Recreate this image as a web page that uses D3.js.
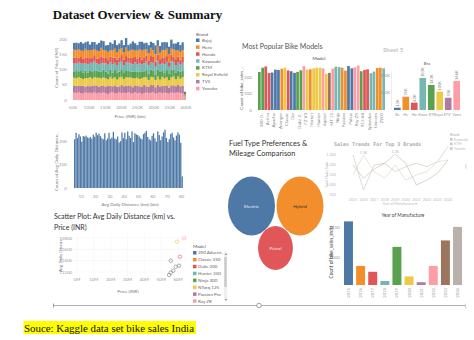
<!DOCTYPE html>
<html>
<head>
<meta charset="utf-8">
<script src="https://cdn.jsdelivr.net/npm/d3@7"></script>
<style>
  body { margin: 0; background: #fff; }
  svg { display: block; }
  text { font-family: Lato, "Open Sans", sans-serif; }
</style>
</head>
<body>
<svg width="474" height="340"></svg>
<script>
// ---- data ----
var brands = ["Bajaj", "Hero", "Honda", "Kawasaki", "KTM", "Royal Enfield", "TVS", "Yamaha"];
var brandColors = ["#4e79a7", "#f28e2b", "#e15759", "#76b7b2", "#59a14f", "#edc948", "#b07aa1", "#ff9da7"];

// price histogram, 7K bins from 50K to 400K, counts per brand
var bajajPrice = [22,25,19,28,24,21,30,18,26,23,20,27,24,29,17,22,25,21,28,24,19,26,23,31,20,22,27,24,18,25,29,21,23,26,20,24,28,19,22,25,27,21,24,30,18,23,26,22,25,8];
var heroPrice = [26,23,28,21,25,29,22,27,24,20,26,23,28,25,22,27,21,24,29,23,26,20,25,28,22,24,27,21,26,23,29,25,20,24,27,22,25,28,21,26,23,24,27,20,25,28,22,26,23,3];
var hondaPrice = [18,21,16,20,17,19,23,15,18,21,16,19,22,17,20,15,18,21,17,19,16,22,18,20,15,19,21,17,18,22,16,20,18,15,21,19,17,20,16,18,22,19,15,21,17,20,18,16,19,2];
var kawasakiPrice = [27,24,29,26,30,23,27,25,28,31,24,26,29,23,27,30,25,28,24,26,31,27,23,29,26,28,24,30,25,27,23,26,29,28,24,27,25,30,26,23,28,27,24,29,26,25,28,23,27,3];
var ktmPrice = [21,24,19,23,20,25,18,22,24,20,23,19,21,25,22,18,24,20,23,21,19,25,22,20,24,18,21,23,20,25,22,19,24,21,23,20,18,22,25,21,19,23,20,24,22,21,19,23,20,2];
var royalPrice = [27,24,29,25,22,28,26,30,23,27,25,29,24,26,28,22,30,25,27,23,29,26,24,28,25,27,30,23,26,24,28,25,29,22,27,26,24,28,23,30,25,27,24,26,29,23,27,25,28,3];
var tvsPrice = [22,25,20,24,26,19,23,21,25,22,27,20,24,23,21,26,22,19,25,23,20,28,21,24,22,26,19,23,25,21,24,27,20,22,25,23,21,26,19,24,22,25,20,23,26,21,24,22,25,2];
var yamahaPrice = [24,22,26,23,21,25,23,24,22,26,21,24,23,25,22,20,24,26,23,21,25,22,24,23,26,21,23,25,22,24,20,23,25,22,24,26,21,23,25,22,24,23,21,25,22,24,26,23,22,4];
var priceBinStart = 50000, priceBinWidth = 7000;
var priceTicks = [50000,100000,150000,200000,250000,300000,350000,400000];

// avg daily distance histogram, 1 km bins from 5 km
var distanceCounts = [210,238,215,232,222,200,224,221,226,218,
  215,220,212,230,221,238,228,234,224,214,
  210,236,206,214,238,211,218,242,213,210,
  222,196,202,240,215,238,210,244,225,216,
  244,198,236,231,228,222,214,210,232,238,
  246,220,210,205,225,236,214,200,244,228,
  206,222,240,251,216,198,210,233,238,218,
  205,226,240,230,195,50];
var distanceStart = 5;

// scatter: model, price (INR), avg daily distance
var scatterModels = ["390 Advent..", "Classic 350", "Duke 200", "Hunter 350", "Ninja 300", "NTorq 125", "Passion Pro", "Ray ZR"];
var scatterPrice = [55.7e6, 58.6e6, 60.6e6, 57.2e6, 55.7e6, 54.7e6, 61.2e6, 59.4e6, 63.6e6];
var scatterDistance = [11399, 11293, 11311, 11223, 11188, 11147, 11470, 11735, 11795];
var scatterModelOf = [0, 3, 4, 6, 1, 3, 2, 5, 7];

// most popular models
var models = ["390 D..","Activa","Apache","Avenger","Classic","Dio","Duke 2..","FZ V3","Hornet","Hunter","Jupiter","MT 15","Ninja","Passion","Pulsar","Ray ZR","R15 V4","Splendor","Unicorn","Z900"];
var modelCountA = [235,270,232,248,262,240,236,272,252,262,258,230,268,262,272,264,240,252,238,262];
var modelCountB = [262,230,250,255,245,230,246,250,258,262,224,256,266,244,258,275,248,228,260,258];
var modelColorA = ["#59a14f","#e15759","#4e79a7","#4e79a7","#edc948","#4e79a7","#59a14f","#ff9da7","#f28e2b","#edc948","#ff9da7","#9c755f","#76b7b2","#f28e2b","#4e79a7","#ff9da7","#59a14f","#e15759","#76b7b2","#f28e2b"];
var modelColorB = ["#59a14f","#e15759","#4e79a7","#f28e2b","#e15759","#4e79a7","#59a14f","#edc948","#edc948","#edc948","#edc948","#ff9da7","#76b7b2","#f28e2b","#4e79a7","#ff9da7","#e15759","#76b7b2","#f28e2b","#76b7b2"];

// brand totals
var brandShort = ["Ba","He","Ho","Kawa","KT","Royal E","TV","Yama"];
var brandTotals = [13000, 76000, 42000, 183000, 143000, 105000, 70000, 166000];

// sales trend for top 3 brands
var years = [2015,2016,2017,2018,2019,2020,2021,2022,2023,2024];
var trendBrands = ["Kawasaki", "KTM", "Yamaha"];
var trendKawasaki = [1300, 950, 1200, 1217, 1133, 1183, 1217, 1183, 1233, 1383];
var trendKtm = [1100, 1300, 1133, 1067, 1200, 1050, 1100, 1133, 1233, 1250];
var trendYamaha = [1200, 1067, 1160, 1217, 1310, 1217, 1000, 1050, 1117, 1250];

// bikes by year of manufacture
var yearCounts = [1119, 974, 955, 925, 1036, 940, 921, 974, 1057, 1101];
var yearColors = ["#4e79a7","#f28e2b","#e15759","#76b7b2","#59a14f","#edc948","#b07aa1","#ff9da7","#9c755f","#bab0ac"];

// fuel types
var fuelTypes = ["Electric", "Hybrid", "Petrol"];
var fuelShare = [1, 1, 0.55];
var fuelColors = ["#4e79a7", "#f28e2b", "#e15759"];

// ---- drawing ----
var svg = d3.select("svg");
var tick = "#9a9a9a", axisText = "#777";

function label(x, y, txt, size, fill, anchor, rot) {
  var t = svg.append("text").attr("x", x).attr("y", y).text(txt)
    .attr("font-size", size).attr("fill", fill || axisText)
    .attr("text-anchor", anchor || "start");
  if (rot) t.attr("transform", "rotate(" + rot + "," + x + "," + y + ")");
  return t;
}

// title
svg.append("text").attr("x", 137.5).attr("y", 18.5)
  .attr("text-anchor", "middle")
  .style("font-family", "'Liberation Serif', 'Times New Roman', serif")
  .attr("font-weight", "bold").attr("font-size", 12.9).attr("fill", "#111")
  .text("Dataset Overview & Summary");

// 1. stacked price histogram
var px = d3.scaleLinear().domain([50000, 400000]).range([73, 186]);
var py = d3.scaleLinear().domain([0, 200]).range([100, 39]);
var priceCols = [bajajPrice, heroPrice, hondaPrice, kawasakiPrice, ktmPrice, royalPrice, tvsPrice, yamahaPrice];
var priceRows = bajajPrice.map(function(_, i) {
  var r = { bin: priceBinStart + i * priceBinWidth };
  brands.forEach(function(b, j) { r[b] = priceCols[j][i]; });
  return r;
});
var color = d3.scaleOrdinal().domain(brands).range(brandColors);
var stack = d3.stack().keys(brands.slice().reverse())(priceRows);
svg.append("g").selectAll("g").data(stack).enter().append("g")
  .attr("fill", function(d) { return color(d.key); })
  .selectAll("rect").data(function(d) { return d; }).enter().append("rect")
  .attr("x", function(d) { return px(d.data.bin); })
  .attr("width", function(d) { return px(d.data.bin + priceBinWidth) - px(d.data.bin) + 0.05; })
  .attr("y", function(d) { return py(d[1]); })
  .attr("height", function(d) { return py(d[0]) - py(d[1]); });
[0, 50, 100, 150, 200].forEach(function(v) { label(67, py(v) + 1.5, v, 4.6, tick, "end"); });
priceTicks.forEach(function(v) { label(px(v), 109, (v / 1000) + "K", 4.6, tick, "middle"); });
label(130, 118, "Price (INR) (bin)", 4.6, axisText, "middle");
label(58, 68, "Count of Price (INR)", 4.6, axisText, "middle", -90);
label(196, 36, "Brand", 4.6, "#555");
brands.forEach(function(b, i) {
  svg.append("rect").attr("x", 196).attr("y", 38.5 + i * 6.9).attr("width", 3.5).attr("height", 3.5).attr("fill", brandColors[i]);
  label(202, 41.8 + i * 6.9, b, 4.5, "#666");
});

// 2. avg daily distance histogram
var dx = d3.scaleLinear().domain([5, 81]).range([74, 183]);
var dy = d3.scaleLinear().domain([0, 200]).range([188, 141.6]);
svg.append("g").selectAll("rect").data(distanceCounts).enter().append("rect")
  .attr("fill", "#4e79a7")
  .attr("x", function(d, i) { return dx(distanceStart + i); })
  .attr("width", function(d, i) { return dx(distanceStart + i + 1) - dx(distanceStart + i) - 0.15; })
  .attr("y", function(d) { return dy(d); })
  .attr("height", function(d) { return dy(0) - dy(d); });
[0, 100, 200].forEach(function(v) { label(67, dy(v) + 1.5, v, 4.6, tick, "end"); });
d3.range(10, 81, 10).forEach(function(v) { label(dx(v), 197.5, v, 4.6, tick, "middle"); });
label(130, 206, "Avg Daily Distance (km) (bin)", 4.6, axisText, "middle");
label(58, 162, "Count of Avg Daily Distance..", 4.6, axisText, "middle", -90);

// 3. scatter
label(54, 219, "Scatter Plot: Avg Daily Distance (km) vs.", 7, "#333");
label(54, 229.5, "Price (INR)", 7, "#333");
var sx = d3.scaleLinear().domain([0, 60e6]).range([77, 178]);
var sy = d3.scaleLinear().domain([11200, 11800]).range([272, 238]);
[11200, 11400, 11600, 11800].forEach(function(v) {
  svg.append("line").attr("x1", 74).attr("x2", 188).attr("y1", sy(v)).attr("y2", sy(v)).attr("stroke", "#f0f0f0").attr("stroke-width", 0.5);
  label(72, sy(v) + 1.5, v, 4.4, tick, "end");
});
d3.range(0, 61e6, 10e6).forEach(function(v) {
  svg.append("line").attr("x1", sx(v)).attr("x2", sx(v)).attr("y1", 234).attr("y2", 276).attr("stroke", "#f2f2f2").attr("stroke-width", 0.5);
  label(sx(v), 281, (v / 1e6) + "M", 4.4, tick, "middle");
});
label(128, 293, "Price (INR)", 4.6, axisText, "middle");
label(62, 255, "Avg Daily Distan..", 4.4, axisText, "middle", -90);
var scatterColor = d3.scaleOrdinal().domain(scatterModels).range(brandColors);
svg.append("g").selectAll("circle").data(scatterPrice).enter().append("circle")
  .attr("cx", function(d) { return sx(d); })
  .attr("cy", function(d, i) { return sy(scatterDistance[i]); })
  .attr("r", 1.7).attr("fill", "none").attr("stroke-width", 0.6)
  .attr("stroke", function(d, i) { var m = scatterModelOf[i]; return (m === 2 || m === 5 || m === 7) ? scatterColor(scatterModels[m]) : "#777"; });
label(193, 248, "Model", 4.6, "#555");
scatterModels.forEach(function(m, i) {
  svg.append("rect").attr("x", 193).attr("y", 251 + i * 6.9).attr("width", 3.5).attr("height", 3.5).attr("fill", brandColors[i]);
  label(198, 254.3 + i * 6.9, m, 4.5, "#666");
});
svg.append("rect").attr("x", 224).attr("y", 252).attr("width", 3).attr("height", 48).attr("fill", "#eee");
svg.append("rect").attr("x", 224.3).attr("y", 257).attr("width", 2.4).attr("height", 30).attr("fill", "#c9c9c9");
label(225.5, 255, "\u25B4", 4, "#888", "middle");
label(225.5, 300.5, "\u25BE", 4, "#888", "middle");

// 4. most popular bike models
label(242, 48.5, "Most Popular Bike Models", 7, "#555");
label(319, 60, "Model", 4.6, "#444", "middle");
var mx = d3.scaleBand().domain(models).range([258, 385]).paddingInner(0.05);
var my = d3.scaleLinear().domain([0, 200]).range([110, 77.7]);
var mb = d3.scaleBand().domain(["a", "b"]).range([0, mx.bandwidth()]).paddingInner(0.18);
[0, 100, 200].forEach(function(v) { label(252, my(v) + 1.5, v, 4.6, tick, "end"); });
svg.append("g").selectAll("rect").data(models).enter().append("rect")
  .attr("x", function(d) { return mx(d) + mb("a"); }).attr("width", mb.bandwidth())
  .attr("y", function(d, i) { return my(modelCountA[i]); })
  .attr("height", function(d, i) { return my(0) - my(modelCountA[i]); })
  .attr("fill", function(d, i) { return modelColorA[i]; });
svg.append("g").selectAll("rect").data(models).enter().append("rect")
  .attr("x", function(d) { return mx(d) + mb("b"); }).attr("width", mb.bandwidth())
  .attr("y", function(d, i) { return my(modelCountB[i]); })
  .attr("height", function(d, i) { return my(0) - my(modelCountB[i]); })
  .attr("fill", function(d, i) { return modelColorB[i]; });
models.forEach(function(m) {
  label(mx(m) + mx.bandwidth() / 2 + 1.5, 113, m, 4.4, "#888", "end", -90);
});
label(243, 88, "Count of bike_sales_..", 4.6, "#555", "middle", -90);

// 5. brand totals
label(383, 52, "Sheet 5", 6, "#c4c4c4").attr("font-weight", "bold");
label(427, 65, "Bra", 4.4, "#555", "middle");
var bx = d3.scaleBand().domain(brands).range([394, 460]).paddingInner(0.22);
var by = d3.scaleLinear().domain([0, 200000]).range([110, 75]);
[100000, 200000].forEach(function(v) {
  label(390, by(v) + 1.5, (v / 1000) + "K", 4.4, tick, "end");
});
svg.append("line").attr("x1", 391.5).attr("x2", 391.5).attr("y1", 72).attr("y2", 110).attr("stroke", "#ddd").attr("stroke-width", 0.5);
svg.append("g").selectAll("rect").data(brandTotals).enter().append("rect")
  .attr("x", function(d, i) { return bx(brands[i]); }).attr("width", bx.bandwidth())
  .attr("y", function(d) { return by(d); }).attr("height", function(d) { return by(0) - by(d); })
  .attr("fill", function(d, i) { return brandColors[i]; });
brandTotals.forEach(function(v, i) {
  label(bx(brands[i]) + bx.bandwidth() / 2 + 1.3, by(v) - 1, d3.format(".0f")(v / 1000) + "K", 4, "#888", "start", -90);
  label(bx(brands[i]) + bx.bandwidth() / 2, 116, brandShort[i], 3.8, "#999", "middle");
});

// 6. fuel type bubbles
label(229, 146, "Fuel Type Preferences &", 7.4, "#333");
label(229, 156, "Mileage Comparison", 7.4, "#333");
var rx = d3.scaleSqrt().domain([0, 1]).range([0, 23.5]);
var ry = d3.scaleSqrt().domain([0, 1]).range([0, 29.5]);
var fuelCx = [251.5, 300, 275.5], fuelCy = [206, 206, 248];
fuelTypes.forEach(function(f, i) {
  svg.append("ellipse").attr("cx", fuelCx[i]).attr("cy", fuelCy[i])
    .attr("rx", rx(fuelShare[i])).attr("ry", ry(fuelShare[i])).attr("fill", fuelColors[i]);
  label(fuelCx[i], fuelCy[i] + 1.5, f, 4.6, f === "Hybrid" ? "#333" : "#eee", "middle");
});

// 7. sales trend lines
label(334, 146, "Sales Trends For Top 3 Brands", 5, "#aaa").style("font-family", "'DejaVu Sans Mono', monospace").attr("font-weight", "bold");
var tx = d3.scalePoint().domain(years).range([353, 448]);
var ty = d3.scaleLinear().domain([900, 1300]).range([195, 155]);
[900, 1000, 1100, 1200, 1300].forEach(function(v) {
  label(336, ty(v) + 1.3, d3.format(",")(v), 3.8, "#bbb", "end");
});
years.forEach(function(y) { label(tx(y), 201, y, 3.6, "#bbb", "middle"); });
label(400, 204.5, "Year of Manufacture \u25BE", 3.6, "#bbb", "middle");
label(328, 175, "Total Units Sold", 3.8, "#bbb", "middle", -90);
var trendLine = d3.line().x(function(d, i) { return tx(years[i]); }).y(function(d) { return ty(d); });
var trendColors = ["#d6d2c8", "#e2ddd2", "#cfcac0"];
[trendKawasaki, trendKtm, trendYamaha].forEach(function(s, i) {
  svg.append("path").datum(s).attr("d", trendLine).attr("fill", "none")
    .attr("stroke", trendColors[i]).attr("stroke-width", 0.8);
});
label(tx(2016), ty(trendKtm[1]) - 1.5, "1.3K", 3.6, "#bbb", "middle");
label(tx(2019), ty(trendYamaha[4]) - 1.5, "1.3K", 3.6, "#bbb", "middle");
label(450, 136, "Brand", 3.6, "#aaa");
trendBrands.forEach(function(b, i) {
  svg.append("rect").attr("x", 450).attr("y", 138 + i * 4.6).attr("width", 2.6).attr("height", 2.6).attr("fill", "#c8c8c8");
  label(454, 140.6 + i * 4.6, b, 3.4, "#bbb");
});
label(466, 168, "(", 5, "#999", "middle");

// 8. year of manufacture bars
label(403, 217, "Year of Manufacture", 4.8, "#444", "middle");
var yx = d3.scaleBand().domain(years).range([344, 462]).paddingInner(0.26);
var yy = d3.scaleLinear().domain([912, 1130]).range([285, 218]);
[1000, 1100].forEach(function(v) { label(340, yy(v) + 1.5, v, 4.6, tick, "end"); });
svg.append("g").selectAll("rect").data(yearCounts).enter().append("rect")
  .attr("x", function(d, i) { return yx(years[i]); }).attr("width", yx.bandwidth())
  .attr("y", function(d) { return yy(d); }).attr("height", function(d) { return yy.range()[0] - yy(d); })
  .attr("fill", function(d, i) { return yearColors[i]; });
years.forEach(function(y) { label(yx(y) + yx.bandwidth() / 2 + 1.5, 288, y, 4.2, "#999", "end", -90); });
label(333, 252, "Count of bike_sales_india", 4.8, "#333", "middle", -90);

// slider under the dashboard
svg.append("line").attr("x1", 53).attr("x2", 465).attr("y1", 305.5).attr("y2", 305.5).attr("stroke", "#9a9a9a").attr("stroke-width", 0.8);
svg.append("line").attr("x1", 53.5).attr("x2", 53.5).attr("y1", 303.5).attr("y2", 307.5).attr("stroke", "#888").attr("stroke-width", 0.8);
svg.append("circle").attr("cx", 259).attr("cy", 305.5).attr("r", 2.3).attr("fill", "#fff").attr("stroke", "#888").attr("stroke-width", 0.8);
label(465.5, 307.5, "(", 6, "#888", "middle");

// source note
svg.append("rect").attr("x", 23.5).attr("y", 321).attr("width", 172.5).attr("height", 13).attr("fill", "#ffff00");
svg.append("text").attr("x", 24).attr("y", 331.5)
  .style("font-family", "'Liberation Serif', 'Times New Roman', serif")
  .attr("font-size", 10.9).attr("fill", "#111")
  .text("Souce: Kaggle data set bike sales India");
</script>
</body>
</html>
